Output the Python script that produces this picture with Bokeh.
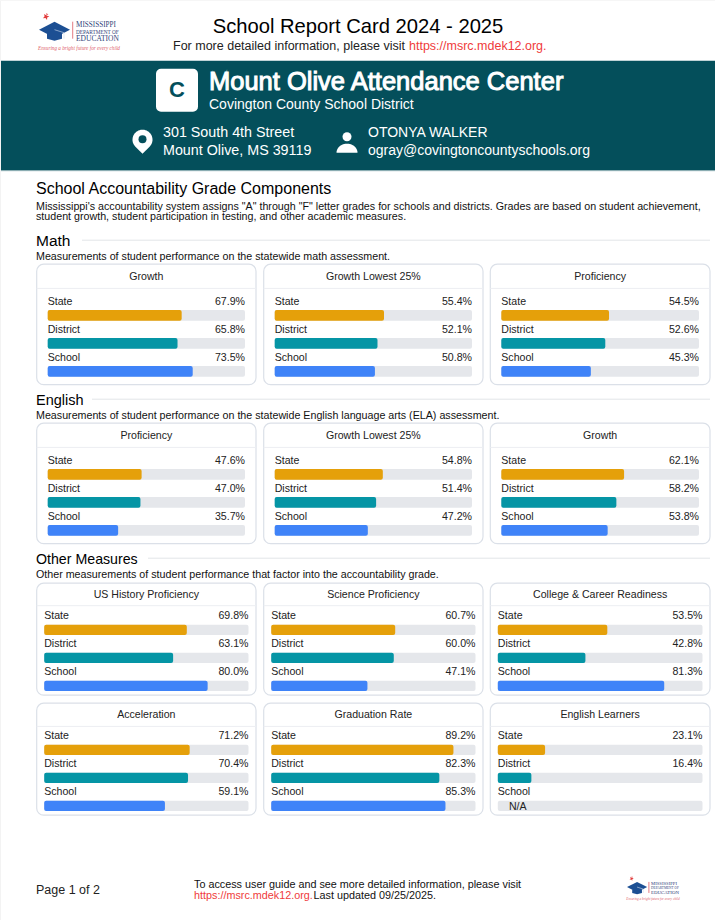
import numpy as np
from bokeh.plotting import figure
from bokeh.models import Range1d
from bokeh.core.properties import value
from bokeh.embed import file_html
from bokeh.resources import INLINE

GROUPS = ["State", "District", "School"]

math_titles = ["Growth", "Growth Lowest 25%", "Proficiency"]
math_state = [67.9, 55.4, 54.5]
math_district = [65.8, 52.1, 52.6]
math_school = [73.5, 50.8, 45.3]

english_titles = ["Proficiency", "Growth Lowest 25%", "Growth"]
english_state = [47.6, 54.8, 62.1]
english_district = [47.0, 51.4, 58.2]
english_school = [35.7, 47.2, 53.8]

other1_titles = ["US History Proficiency", "Science Proficiency", "College & Career Readiness"]
other1_state = [69.8, 60.7, 53.5]
other1_district = [63.1, 60.0, 42.8]
other1_school = [80.0, 47.1, 81.3]

other2_titles = ["Acceleration", "Graduation Rate", "English Learners"]
other2_state = [71.2, 89.2, 23.1]
other2_district = [70.4, 82.3, 16.4]
other2_school = [59.1, 85.3, None]

W, H = 715, 920
DX, DY = 0.5, 0.8
FONT = "Liberation Sans"
TEAL = "#044f5b"
RED = "#ef3b3b"
INK = "#111111"
BAR_COLORS = ["#e5a00a", "#0595a5", "#3f83f8"]
TRACK = "#e5e7eb"
BORDER = "#dbe0e8"

p = figure(width=W, height=H, x_range=Range1d(DX, W + DX), y_range=Range1d(H + DY, DY),
           output_backend="svg", toolbar_location=None, min_border=0,
           x_axis_location=None, y_axis_location=None, outline_line_color=None)
p.grid.visible = False


def t(x, y, s, size, color=INK, align="left", style="normal", **kw):
    p.text([x], [y], text=[s], text_font=value(FONT), text_font_size=f"{size}px",
           text_color=color, text_align=align, text_baseline="middle",
           text_font_style=style, **kw)


def box(l, r, top, bottom, fill, line=None, radius=0, lw=1.0):
    p.quad(left=[l], right=[r], top=[top], bottom=[bottom], fill_color=fill,
           line_color=line, line_width=lw, border_radius=radius)


def rule(x0, x1, y, color, lw=1.0):
    p.line([x0, x1], [y, y], line_color=color, line_width=lw)


def logo(x, y, k):
    a = np.array
    p.patch(x + k * a([0, 15.5, 31, 15.5]), y + k * a([16, 8, 16, 24]), fill_color="#1c4f93", line_color=None)
    p.patch(x + k * a([8, 23, 23, 15.5, 8]), y + k * a([20, 20, 25, 27, 25]), fill_color="#1c4f93", line_color=None)
    p.line(x + k * a([15.5, 25, 25]), y + k * a([16, 19, 25]), line_color="#cfdcee", line_width=0.6)
    th = np.linspace(-np.pi / 2, 3.5 * np.pi / 2, 11)
    rr = np.where(np.arange(11) % 2 == 0, 3.4, 1.4)
    p.patch(x + k * (7 + rr * np.cos(th)), y + k * (3 + rr * np.sin(th)), fill_color="#e23b3b", line_color=None)
    p.line(x + k * a([33.7, 33.7]), y + k * a([8, 25]), line_color="#d9434e", line_width=0.7)
    for i, s in enumerate(["MISSISSIPPI", "DEPARTMENT OF", "EDUCATION"]):
        p.text([x + k * 37], [y + k * (11 + 7 * i)], text=[s], text_font=value("Liberation Serif"),
               text_font_size=f"{[7.2, 5.3, 7.5][i] * k:.2f}px", text_color="#2f447a",
               text_baseline="middle")
    p.text([x - k], [y + k * 34], text=["Ensuring a bright future for every child"],
           text_font=value("Liberation Serif"), text_font_size=f"{5.2 * k:.2f}px",
           text_color="#e0606a", text_font_style="italic", text_baseline="middle")


# page edge
box(0, W + 1, 1, -1, "#e8e8e8")
box(-1, 1, H + 1, -1, "#e8e8e8")

# header
logo(39, 14, 1.0)
t(358, 26, "School Report Card 2024 - 2025", 20.2, "#000000", "center")
t(173, 46, "For more detailed information, please visit", 12.5, "#222222")
t(409, 46, "https://msrc.mdek12.org.", 12.5, RED)

box(1, W + 1, 171, 61, TEAL)
rule(1, W + 1, 171, "#9db9bd", 1)
box(156, 198, 112, 69, "#ffffff", radius=5)
t(177, 90, "C", 22, TEAL, "center", "bold")
t(209, 81, "Mount Olive Attendance Center", 25.5, "#ffffff", outline_color="#ffffff")
t(209, 104.5, "Covington County School District", 14, "#ffffff")
t(163, 132.5, "301 South 4th Street", 14.3, "#ffffff")
t(163, 150.5, "Mount Olive, MS 39119", 14.3, "#ffffff")
t(368, 132.5, "OTONYA WALKER", 14, "#ffffff")
t(368, 150.5, "ogray@covingtoncountyschools.org", 14, "#ffffff")

# location pin
ang = np.linspace(-np.pi * 1.25, np.pi * 0.25, 40)
p.patch(np.r_[142.5 + 10 * np.cos(ang), 142.5], np.r_[140 + 10 * np.sin(ang), 154], fill_color="#ffffff", line_color=None)
p.scatter([142.5], [139.5], size=8, marker="circle", fill_color=TEAL, line_color=None)
# person
p.scatter([347], [137], size=9, marker="circle", fill_color="#ffffff", line_color=None)
ang2 = np.linspace(np.pi, 2 * np.pi, 30)
p.patch(347 + 10.5 * np.cos(ang2), 153 + 9 * np.sin(ang2), fill_color="#ffffff", line_color=None)

# intro
t(36, 188.5, "School Accountability Grade Components", 16, "#000000")
t(36, 206.5, "Mississippi's accountability system assigns \"A\" through \"F\" letter grades for schools and districts. Grades are based on student achievement,", 10.7, "#111111")
t(36, 216.5, "student growth, student participation in testing, and other academic measures.", 10.7, "#111111")


def section(name, size, desc, y, rule_x):
    t(36, y, name, size, "#000000")
    rule(rule_x, 710, y - 0.5, "#e3e5e8", 1)
    t(36, y + 15.5, desc, 10.7, "#111111")


def add_x_range(name, x0, width):
    # a scale per card column: 0-100 percent onto that card's track
    p.extra_x_ranges[name] = Range1d((DX - x0) / width * 100, (W + DX - x0) / width * 100)


def card_row(prefix, titles, state, district, school, top, bottom, title_y, div_y,
             label_ys, bar_ys, bar_h, lefts, rights, pad):
    for c, title in enumerate(titles):
        l, r = lefts[c], rights[c]
        box(l, r, bottom, top, "#ffffff", BORDER, radius=7, lw=1.2)
        rule(l, r, div_y, "#eceef2", 1)
        t((l + r) / 2, title_y, title, 10.6, "#222222", "center")
        x0, x1 = l + pad, r - pad
        name = f"{prefix}{c}"
        add_x_range(name, x0, x1 - x0)
        vals = [state[c], district[c], school[c]]
        for g, v in enumerate(vals):
            t(x0, label_ys[g], GROUPS[g], 10.6, "#222222")
            by = bar_ys[g]
            p.quad(left=[0], right=[100], top=[by], bottom=[by + bar_h], fill_color=TRACK,
                   line_color=None, border_radius=2, x_range_name=name)
            if v is None:
                t(x0 + 20, by + bar_h / 2, "N/A", 10.6, "#222222", "center")
            else:
                p.quad(left=[0], right=[v], top=[by], bottom=[by + bar_h], fill_color=BAR_COLORS[g],
                       line_color=None, border_radius=2, x_range_name=name)
                t(x1, label_ys[g], f"{v:.1f}%", 10.6, "#222222", "right")


LEFTS = [36.7, 263.7, 490.3]
RIGHTS = [256, 483, 710]

section("Math", 15.5, "Measurements of student performance on the statewide math assessment.", 241, 82)
card_row("m", math_titles, math_state, math_district, math_school, 264.5, 385, 276, 288.7,
         [301.5, 329.5, 357.5], [310.3, 338.3, 366.3], 10.7, LEFTS, RIGHTS, 11)

section("English", 14.5, "Measurements of student performance on the statewide English language arts (ELA) assessment.", 400, 92)
card_row("e", english_titles, english_state, english_district, english_school, 423.5, 544, 435, 447.7,
         [460.5, 488.5, 516.5], [469.3, 497.3, 525.3], 10.7, LEFTS, RIGHTS, 11)

section("Other Measures", 14.2, "Other measurements of student performance that factor into the accountability grade.", 559, 148)
card_row("a", other1_titles, other1_state, other1_district, other1_school, 583.5, 695.5, 594, 606,
         [615.5, 643.5, 671.5], [625, 653, 681], 10.3, LEFTS, RIGHTS, 7.5)
card_row("b", other2_titles, other2_state, other2_district, other2_school, 703.5, 815.5, 714.5, 726.7,
         [735.5, 763.5, 791.5], [745, 773, 801], 10.3, LEFTS, RIGHTS, 7.5)

# footer
t(36, 890.5, "Page 1 of 2", 12.5, "#222222")
t(194, 884.5, "To access user guide and see more detailed information, please visit", 10.8, "#111111")
t(194, 895, "https://msrc.mdek12.org.", 10.8, RED)
t(313.5, 895, "Last updated 09/25/2025.", 10.8, "#111111")
logo(627, 877, 0.65)

open("out.html", "w").write(file_html(p, INLINE))
